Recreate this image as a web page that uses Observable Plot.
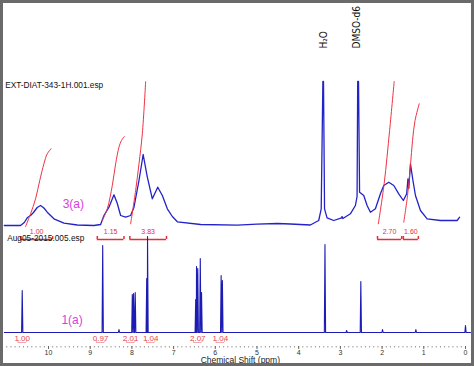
<!DOCTYPE html>
<html><head><meta charset="utf-8">
<script src="https://cdn.jsdelivr.net/npm/d3@7"></script>
<script src="https://cdn.jsdelivr.net/npm/@observablehq/plot@0.6"></script>
<style>
body{margin:0;background:#fff;}
#wrap{position:relative;width:474px;height:366px;overflow:hidden;background:#fff;}
#wrap svg{position:absolute;left:0;top:0;}
#border{position:absolute;left:0;top:0;width:474px;height:366px;box-sizing:border-box;border:3px solid #6a6a6a;pointer-events:none;}
</style></head><body><div id="wrap"><div id="border"></div></div>
<script>
// ---- data (chemical shift ppm, intensity) ----
// lower spectrum 1(a): individual lines [ppm, height]
const lowerPeaks = [[10.63,42],[8.70,87],[8.31,3],[7.99,38],[7.96,39],[7.92,40],[7.645,54],[7.625,96],
  [6.47,33],[6.45,66],[6.42,64],[6.36,74],[6.33,40],[5.86,57],[5.83,52],[3.37,88],[2.85,2],[2.51,51],[1.99,3],[1.19,3],[0.00,7]];
const lowerRange = [11.06, -0.12];
// upper spectrum 3(a): traced points [ppm, height above its baseline]
const upperTrace = [[11.06,-1],[10.67,-1],[10.58,2],[10.51,6.7],[10.43,9],[10.36,12],[10.27,17],[10.19,19],[10.11,16.5],
  [10.03,12.3],[9.87,5.7],[9.63,1.3],[9.31,-0.5],[8.91,-1],[8.75,0],[8.67,9],[8.55,17.3],[8.43,29.7],[8.35,21],[8.27,9],
  [8.15,7.3],[8.03,9],[7.95,17.3],[7.83,44],[7.73,70],[7.63,47.3],[7.51,25.7],[7.38,37.3],[7.27,29],[7.15,15.7],[7.03,8],
  [6.91,2.7],[6.35,0],[5.47,-0.7],[5.0,0.3],[4.51,1],[4.2,0.5],[3.72,-0.5],[3.52,4],[3.46,15.7],[3.42,143],[3.405,143],
  [3.38,15.7],[3.32,6.7],[3.16,4],[2.97,6.7],[2.96,8],[2.94,6],[2.76,10.7],[2.64,19],[2.60,28],[2.585,143],[2.565,143],
  [2.54,32.3],[2.44,29],[2.36,19],[2.28,12.3],[2.16,15.7],[2.04,30.7],[1.96,39],[1.84,42.3],[1.72,39],[1.60,30.7],
  [1.49,24],[1.41,30.7],[1.38,45.7],[1.36,36],[1.32,60.7],[1.26,44],[1.20,29],[1.08,14],[0.92,5.7],[0.60,4],[0.20,4],[0.14,7.3]];
const upperOffset = 108;
// integral curves of the upper spectrum
const integral1 = [[10.55,-2],[10.43,10.7],[10.31,25.7],[10.21,44],[10.11,60.7],[10.03,70.7],[9.94,75.7]];
const integral2 = [[8.71,4],[8.59,15.7],[8.47,39],[8.39,60.7],[8.31,77.3],[8.25,84],[8.18,88]];
const integral3 = [[8.03,0.7],[7.91,34],[7.83,60.7],[7.75,90.7],[7.67,143]];
const integral4 = [[2.09,0.7],[1.95,41],[1.82,94],[1.71,143]];
const integral5 = [[1.48,2.3],[1.39,29],[1.32,59],[1.27,84],[1.21,104],[1.11,120.7]];
// integration brackets
const upperIntFrom = [10.67, 8.83, 8.05, 2.11, 1.49];
const upperIntTo   = [9.90, 8.19, 7.17, 1.53, 1.13];
const upperIntLabels = ["1.00","1.15","3.83","2.70","1.60"];
const lowerIntAt = [10.63, 8.75, 8.03, 7.55, 6.42, 5.88];
const lowerIntLabels = ["1.00","0.97","2.01","1.04","2.07","1.04"];
// axis ticks
const majorTicks = [0,1,2,3,4,5,6,7,8,9,10];
const minorTicks = d3.range(0, 111).map(i => i / 10);
const axisTitle = "Chemical Shift (ppm)";
// text annotations
const fileNames = ["EXT-DIAT-343-1H.001.esp", "Aug05-2015.005.esp"];
const sampleLabels = ["3(a)", "1(a)"];
const solventLabels = ["H\u2082O", "DMSO-d6"];
const solventPpm = [3.41, 2.60];

// ---- build tables ----
const lowerPts = [{ppm: lowerRange[0], y: 0}];
for (const [p, h] of lowerPeaks) lowerPts.push({ppm: p + 0.015, y: 0}, {ppm: p, y: h}, {ppm: p - 0.015, y: 0});
lowerPts.push({ppm: lowerRange[1], y: 0});
lowerPts.sort((a, b) => b.ppm - a.ppm);
const upperPts = upperTrace.map(([p, h]) => ({ppm: p, y: h + upperOffset}));
const integrals = [integral1, integral2, integral3, integral4, integral5]
  .flatMap((c, k) => c.map(([p, h]) => ({ppm: p, y: h + upperOffset, k})));
const upBr = upperIntLabels.map((t, i) => ({a: upperIntFrom[i], b: upperIntTo[i], m: (upperIntFrom[i] + upperIntTo[i]) / 2, t}));
const loBr = lowerIntLabels.map((t, i) => ({a: lowerIntAt[i] + 0.1, b: lowerIntAt[i] - 0.1, m: lowerIntAt[i], t}));
const bY = upperOffset - 15, bT = upperOffset - 12, bL = upperOffset - 7;

const font = "Liberation Sans, Arial, sans-serif";
const red = "#e0303a";
const blue = "#1c1cb4";

const chart = Plot.plot({
  width: 474, height: 366,
  marginTop: 0, marginLeft: 0, marginRight: 0, marginBottom: 20,
  x: {domain: [11.151, -0.216], range: [0, 474]},
  y: {domain: [-14, 332], range: [346, 0], axis: null},
  style: {fontFamily: font, background: "#fff", overflow: "visible"},
  marks: [
    Plot.axisX(minorTicks, {tickSize: 1.5, tickFormat: () => "", stroke: "#999", label: null}),
    Plot.axisX(majorTicks, {tickSize: 3, tickPadding: 1, fontSize: 7, fill: "#333", stroke: "#666", label: null, tickFormat: d => String(d)}),
    Plot.text([axisTitle], {x: 5.40, y: -28, text: d => d, fontSize: 8.5, fill: "#222"}),
    // upper integration brackets
    Plot.ruleY(upBr, {x1: "a", x2: "b", y: bY, stroke: red, strokeWidth: 1.5}),
    Plot.ruleX(upBr, {x: "a", y1: bY, y2: bT, stroke: red, strokeWidth: 1.5}),
    Plot.ruleX(upBr, {x: "b", y1: bY, y2: bT, stroke: red, strokeWidth: 1.5}),
    Plot.text(upBr, {x: "m", y: bL, text: "t", fill: red, fontSize: 7}),
    // lower integration brackets
    Plot.ruleY(loBr, {x1: "a", x2: "b", y: -10, stroke: "#f3a8a8", strokeWidth: 1}),
    Plot.ruleX(loBr, {x: "a", y1: -10, y2: -8, stroke: "#f3a8a8"}),
    Plot.ruleX(loBr, {x: "b", y1: -10, y2: -8, stroke: "#f3a8a8"}),
    Plot.text(loBr, {x: "m", y: -5.5, text: "t", fill: "#e8454f", fontSize: 8}),
    // file names
    Plot.text([fileNames[0]], {x: 11.04, y: 247, text: d => d, textAnchor: "start", fontSize: 8.3, fill: "#111"}),
    Plot.text([fileNames[1]], {x: 10.99, y: 94, text: d => d, textAnchor: "start", fontSize: 8.3, fill: "#111"}),
    // spectra
    Plot.line(lowerPts, {x: "ppm", y: "y", stroke: blue, strokeWidth: 1.1, curve: "linear"}),
    Plot.line(upperPts, {x: "ppm", y: "y", stroke: "#2222c8", strokeWidth: 1.3, curve: "linear"}),
    Plot.line(integrals, {x: "ppm", y: "y", z: "k", stroke: "#ee3344", strokeWidth: 1, curve: "catmull-rom"}),
    // sample labels
    Plot.text([sampleLabels[0]], {x: 9.66, y: upperOffset + 20.3, text: d => d, textAnchor: "start", fontSize: 12, fill: "#dd3ddd"}),
    Plot.text([sampleLabels[1]], {x: 9.69, y: 12, text: d => d, textAnchor: "start", fontSize: 12, fill: "#dd3ddd"}),
    // solvent labels
    Plot.text(solventLabels, {x: (d, i) => solventPpm[i], y: 284, text: d => d, rotate: -90, textAnchor: "start",
      fontSize: 10, fill: "#111", fontFamily: "Liberation Sans Narrow, DejaVu Sans Condensed, sans-serif"})
  ]
});
document.getElementById("wrap").insertBefore(chart, document.getElementById("border"));
</script>
</body></html>
